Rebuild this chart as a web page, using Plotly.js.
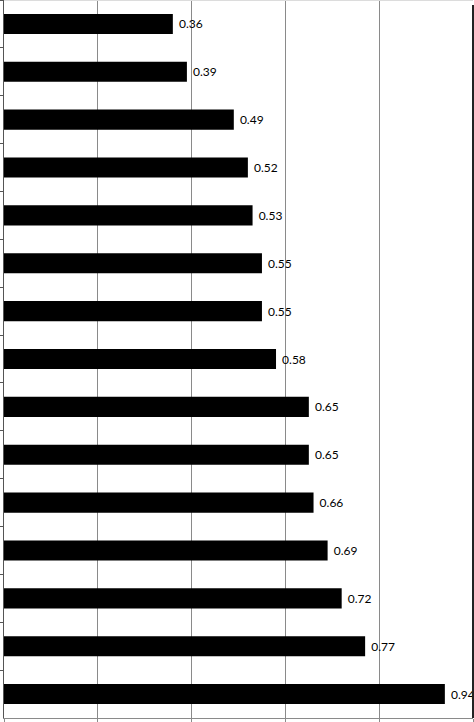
<!DOCTYPE html>
<html>
<head>
<meta charset="utf-8">
<script src="https://cdn.plot.ly/plotly-3.0.1.min.js"></script>
<style>
  html, body {margin:0; padding:0; background:#fff;}
  #chart {width:474px; height:722px;}
</style>
</head>
<body>
<div id="chart"></div>
<script>
// categories top -> bottom (no labels shown on the axis)
var categories = ['c1','c2','c3','c4','c5','c6','c7','c8','c9','c10','c11','c12','c13','c14','c15']
var values = [0.36, 0.39, 0.49, 0.52, 0.53, 0.55, 0.55, 0.58, 0.65, 0.65, 0.66, 0.69, 0.72, 0.77, 0.94]
// non-breaking space keeps a bit more room between bar end and label
var labels = values.map(function (v) { return '\u00a0' + v.toFixed(2) })

var gridColor = '#8a8a8a'

var trace = {
    type: 'bar',
    orientation: 'h',
    x: values,
    y: categories,
    text: labels,
    textposition: 'outside',
    cliponaxis: false,
    textfont: {family: 'Lato, "Open Sans", sans-serif', size: 12, color: '#000'},
    marker: {color: '#000'},
    hoverinfo: 'none',
}

var layout = {
    width: 474,
    height: 722,
    margin: {l: 4, r: 1, t: 0, b: 4},
    paper_bgcolor: '#fff',
    plot_bgcolor: '#fff',
    showlegend: false,
    bargap: 0.58,
    xaxis: {
        range: [0, 1],
        dtick: 0.2,
        showgrid: true,
        gridcolor: gridColor,
        gridwidth: 1,
        zeroline: false,
        showline: true,
        linecolor: gridColor,
        linewidth: 1,
        ticks: 'outside',
        ticklen: 5,
        tickcolor: gridColor,
        showticklabels: false,
        fixedrange: true,
    },
    yaxis: {
        autorange: 'reversed',
        showgrid: false,
        zeroline: false,
        showline: true,
        linecolor: '#555',
        linewidth: 1,
        ticks: 'outside',
        tickson: 'boundaries',
        ticklen: 4,
        tickcolor: '#555',
        showticklabels: false,
        fixedrange: true,
    },
    shapes: [
        // faint top edge and dark right frame of the original picture
        {type: 'line', xref: 'paper', yref: 'paper', x0: 0, x1: 1, y0: 1, y1: 1,
         line: {color: '#dcdcdc', width: 2}},
        {type: 'line', xref: 'paper', yref: 'paper', x0: 1, x1: 1, y0: 0, y1: 0.993,
         line: {color: '#222', width: 2}},
    ],
}

Plotly.newPlot('chart', [trace], layout, {displayModeBar: false, staticPlot: true})
</script>
</body>
</html>
